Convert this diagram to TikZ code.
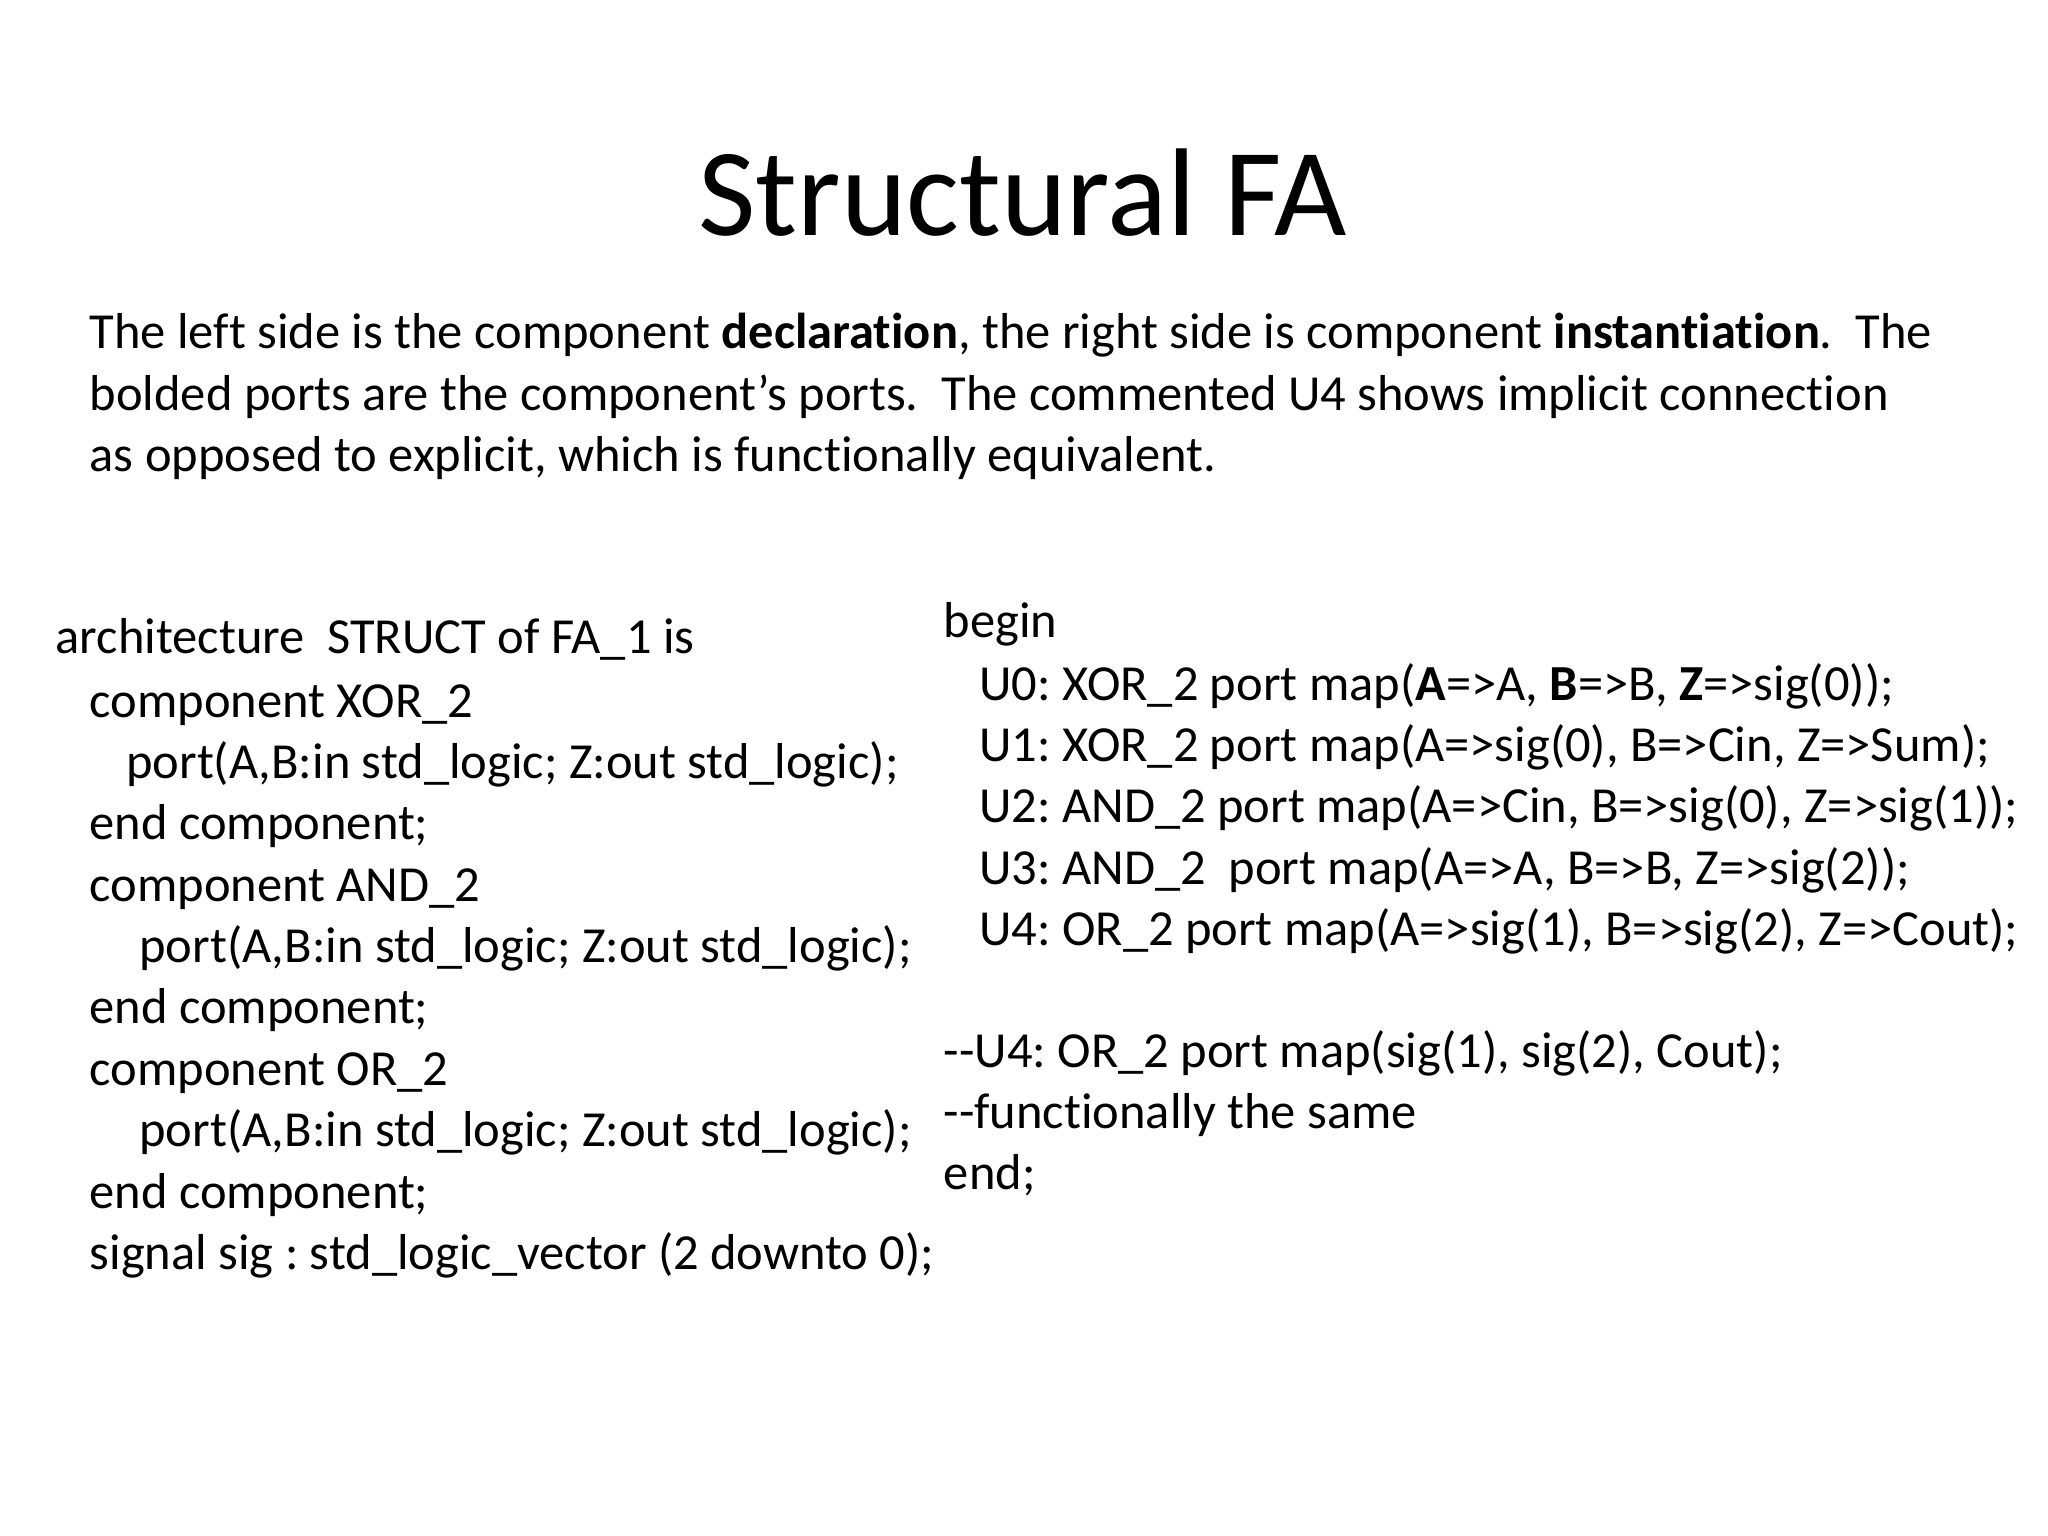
\documentclass[tikz,border=0pt]{standalone}
\usepackage{fontspec}
\setmainfont[Ligatures=NoCommon]{Carlito}
\begin{document}
\frenchspacing
\begin{tikzpicture}[x=1cm,y=1cm,
  ln/.style={anchor=base west,inner sep=0pt,font=\fontsize{11pt}{13pt}\selectfont\frenchspacing}]
\useasboundingbox (0,0) rectangle (15.68,11.76);
\node[anchor=base,inner sep=0pt,font=\fontsize{27.2pt}{32pt}\selectfont] (title) at (7.83,11.76-1.80) {Structural FA};
\node[ln] (p1) at (0.68,11.76-2.67) {The left side is the component \textbf{declaration}, the right side is component \textbf{instantiation}.\ \ The};
\node[ln] (p2) at (0.68,11.76-3.14) {bolded ports are the component’s ports.\ \ The commented U4 shows implicit connection};
\node[ln] (p3) at (0.68,11.76-3.61) {as opposed to explicit, which is functionally equivalent.};
\node[ln] (l1) at (0.42,11.76-5.00) {architecture\ \ STRUCT of FA\_1 is};
\node[ln] (l2) at (0.68,11.76-5.49) {component XOR\_2};
\node[ln] (l3) at (0.96,11.76-5.96) {port(A,B:in std\_logic; Z:out std\_logic);};
\node[ln] (l4) at (0.68,11.76-6.43) {end component;};
\node[ln] (l5) at (0.68,11.76-6.90) {component AND\_2};
\node[ln] (l6) at (1.06,11.76-7.37) {port(A,B:in std\_logic; Z:out std\_logic);};
\node[ln] (l7) at (0.68,11.76-7.84) {end component;};
\node[ln] (l8) at (0.68,11.76-8.31) {component OR\_2};
\node[ln] (l9) at (1.06,11.76-8.78) {port(A,B:in std\_logic; Z:out std\_logic);};
\node[ln] (l10) at (0.68,11.76-9.25) {end component;};
\node[ln] (l11) at (0.68,11.76-9.72) {signal sig : std\_logic\_vector (2 downto 0);};
\node[ln] (r1) at (7.22,11.76-4.88) {begin};
\node[ln] (r2) at (7.49,11.76-5.36) {U0: XOR\_2 port map(\textbf{A}=>A, \textbf{B}=>B, \textbf{Z}=>sig(0));};
\node[ln] (r3) at (7.49,11.76-5.83) {U1: XOR\_2 port map(A=>sig(0), B=>Cin, Z=>Sum);};
\node[ln] (r4) at (7.49,11.76-6.30) {U2: AND\_2 port map(A=>Cin, B=>sig(0), Z=>sig(1));};
\node[ln] (r5) at (7.49,11.76-6.77) {U3: AND\_2\ \ port map(A=>A, B=>B, Z=>sig(2));};
\node[ln] (r6) at (7.49,11.76-7.24) {U4: OR\_2 port map(A=>sig(1), B=>sig(2), Z=>Cout);};
\node[ln] (r7) at (7.22,11.76-8.17) {-{}-U4: OR\_2 port map(sig(1), sig(2), Cout);};
\node[ln] (r8) at (7.22,11.76-8.64) {-{}-functionally the same};
\node[ln] (r9) at (7.22,11.76-9.11) {end;};
\end{tikzpicture}
\end{document}
